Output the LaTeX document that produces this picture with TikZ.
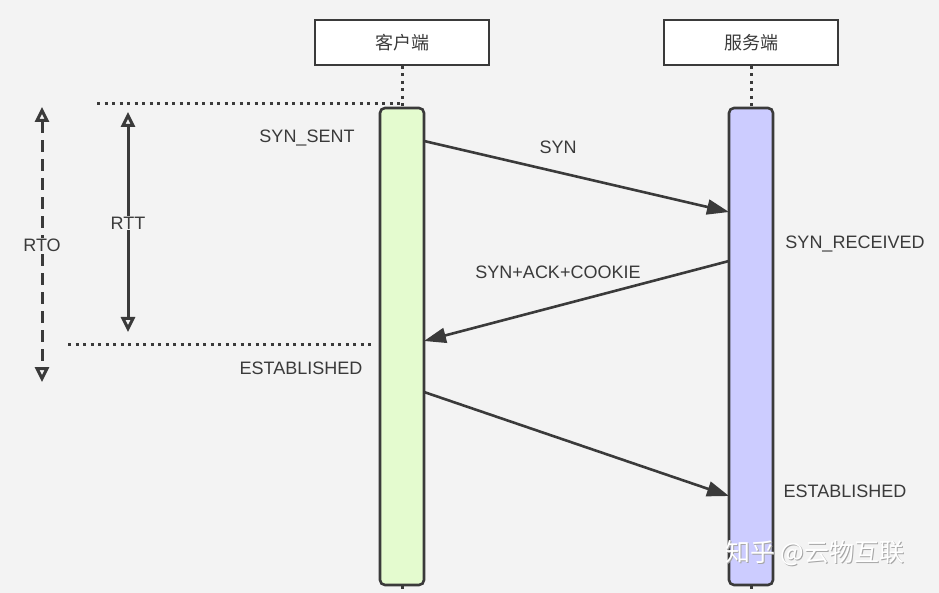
\documentclass[tikz,border=0pt]{standalone}
\usepackage{fontspec}
\setmainfont{Liberation Sans}
\newfontfamily\cjk{Noto Sans CJK SC}
\usetikzlibrary{arrows.meta}
\definecolor{bg}{HTML}{F3F3F3}
\definecolor{ln}{HTML}{3A3A3A}
\definecolor{cgreen}{HTML}{E4FBCF}
\definecolor{cblue}{HTML}{CCCCFF}
\begin{document}
\begin{tikzpicture}[x=1pt,y=-1pt,
  head/.style={draw=ln,fill=white,line width=2pt,minimum width=174pt,minimum height=45pt,font=\cjk\fontsize{18}{21}\selectfont,text=ln},
  bar/.style={draw=ln,line width=2.6pt,rounded corners=5pt,minimum width=44pt,minimum height=477pt},
  lbl/.style={font=\fontsize{18}{21}\selectfont,text=ln},
  msg/.style={draw=ln,line width=2.6pt,-{Triangle[length=22pt,width=15pt]}},
  dots/.style={draw=ln,line width=3pt,dash pattern=on 3pt off 4.5pt},
  meas/.style={draw=ln,line width=3pt,{Triangle[open,length=15pt,width=14pt]}-{Triangle[open,length=15pt,width=14pt]}}]
\fill[bg] (0,0) rectangle (939,593);
\useasboundingbox (0,0) rectangle (939,593);
\node[head] (ch) at (402,42.5) {客户端};
\node[head] (sh) at (751,42.5) {服务端};
\node[bar,fill=cgreen] (cb) at (402,346.5) {};
\node[bar,fill=cblue] (sb) at (751,346.5) {};
\coordinate (cbot) at (402,596);
\coordinate (sbot) at (751,596);
\draw[dots] (ch.south) -- (cb.north);
\draw[dots] (sh.south) -- (sb.north);
\draw[dots] (cb.south) -- (cbot);
\draw[dots] (sb.south) -- (sbot);
\coordinate (t1) at (97,104); \coordinate (t2) at (402,104);
\coordinate (b1) at (68,344); \coordinate (b2) at (375,344);
\draw[dots] (t1) -- (t2);
\draw[dots] (b1) -- (b2);
\coordinate (rt1) at (128,112); \coordinate (rt2) at (128,332);
\draw[meas] (rt1) -- (rt2);
\node[lbl,fill=bg,inner sep=1pt] (rtt) at (128,223) {RTT};
\coordinate (ro1) at (42,107); \coordinate (ro2) at (42,382);
\draw[meas,dash pattern=on 12pt off 7pt] (ro1) -- (ro2);
\node[lbl,fill=bg,inner sep=1pt] (rto) at (42,245) {RTO};
\node[lbl] (ss) at (307,138) {SYN\_SENT};
\node[lbl] (ce) at (301,368) {ESTABLISHED};
\node[lbl] (sr) at (855,244) {SYN\_RECEIVED};
\node[lbl] (se) at (845,491) {ESTABLISHED};
\coordinate (a1) at (424,141); \coordinate (a2) at (729,212);
\coordinate (b3) at (729,261); \coordinate (b4) at (424,341);
\coordinate (c1) at (424,392); \coordinate (c2) at (729,496);
\draw[msg] (a1) -- (a2);
\draw[msg] (b3) -- (b4);
\draw[msg] (c1) -- (c2);
\node[lbl] (m1) at (558,147) {SYN};
\node[lbl] (m2) at (558,272) {SYN+ACK+COOKIE};
\node[font=\cjk\fontsize{25}{28}\selectfont,text=black!35] (wmsh) at (816,554) {知乎 @云物互联};
\node[font=\cjk\fontsize{25}{28}\selectfont,text=white] (wm) at (815,553) {知乎 @云物互联};
\end{tikzpicture}
\end{document}
